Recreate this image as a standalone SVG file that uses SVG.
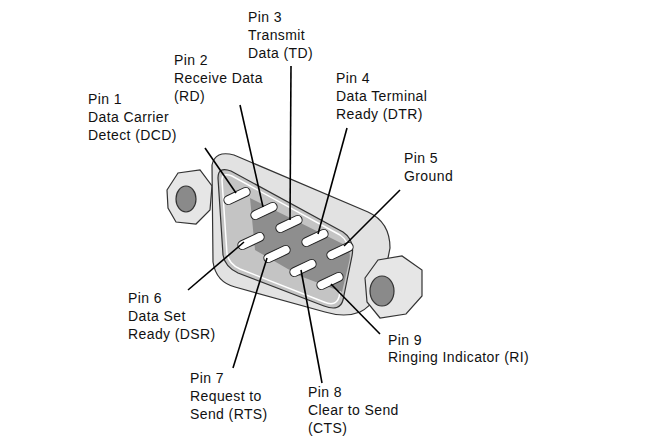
<svg xmlns="http://www.w3.org/2000/svg" width="671" height="445" viewBox="0 0 671 445">
<style>
text{font-family:"Liberation Sans",Arial,sans-serif;font-size:14px;letter-spacing:0.4px;fill:#111}
.l{stroke:#000;stroke-width:1.6;fill:none}
.pin{fill:#fff;stroke:#222;stroke-width:1}
.o{stroke:#333;stroke-width:1.2}
</style>
<rect width="671" height="445" fill="#fff"/>
<!-- left nut -->
<polygon class="o" points="167,190 178,173 200,170 212,186 210,210 196,224 176,222 168,208" fill="#e6e6e6"/>
<ellipse class="o" cx="186" cy="199" rx="10" ry="13" fill="#8a8a8a"/>
<!-- shell -->
<path class="o" fill="#e2e2e2" d="M212,165 Q215,150 234,155 L368,212 Q390,222 390,248 L386,268 Q380,302 360,312 Q345,318 325,312 L235,287 Q216,282 213,262 Z"/>
<!-- face -->
<path d="M218,178 Q218,166 231,171 L343,232 Q355,240 352,256 L343,300 Q340,312 324,306 L238,273 Q225,267 223,255 Z" fill="#c4c4c4" stroke="#333" stroke-width="1.2"/>
<path d="M222,180 Q222,172 232,176 L340,235 Q350,242 348,255 L339,297 Q336,307 324,302 L240,269 Q229,264 227,254 Z" fill="none" stroke="#fff" stroke-width="1.5"/>
<!-- dark cavity -->
<path d="M250,198 L345,245 Q352,250 349,262 L342,292 L300,276 L255,250 Z" fill="#8e8e8e"/>
<!-- right nut -->
<polygon class="o" points="365,278 378,260 402,256 422,270 422,296 406,314 380,318 367,302" fill="#e6e6e6"/>
<ellipse class="o" cx="382" cy="291" rx="12" ry="15" fill="#8a8a8a"/>
<!-- pins -->
<g class="pin">
<rect x="-14" y="-4.5" width="28" height="9" rx="4.5" transform="translate(237,196) rotate(-25)"/>
<rect x="-14" y="-4.5" width="28" height="9" rx="4.5" transform="translate(264,211) rotate(-25)"/>
<rect x="-14" y="-4.5" width="28" height="9" rx="4.5" transform="translate(289,224) rotate(-25)"/>
<rect x="-14" y="-4.5" width="28" height="9" rx="4.5" transform="translate(315,238) rotate(-25)"/>
<rect x="-14" y="-4.5" width="28" height="9" rx="4.5" transform="translate(340,251) rotate(-25)"/>
<rect x="-14" y="-4.5" width="28" height="9" rx="4.5" transform="translate(251,241) rotate(-25)"/>
<rect x="-14" y="-4.5" width="28" height="9" rx="4.5" transform="translate(277,254) rotate(-25)"/>
<rect x="-14" y="-4.5" width="28" height="9" rx="4.5" transform="translate(303,268) rotate(-25)"/>
<rect x="-14" y="-4.5" width="28" height="9" rx="4.5" transform="translate(330,281) rotate(-25)"/>
</g>
<g id="connectors">
<line class="l" x1="205" y1="148" x2="236" y2="193"/>
<line class="l" x1="240" y1="105" x2="263" y2="207"/>
<line class="l" x1="291" y1="66" x2="290" y2="220"/>
<line class="l" x1="347" y1="128" x2="318" y2="234"/>
<line class="l" x1="400" y1="190" x2="344" y2="246"/>
<line class="l" x1="188" y1="290" x2="244" y2="242"/>
<line class="l" x1="233" y1="368" x2="267" y2="258"/>
<line class="l" x1="322" y1="383" x2="301" y2="270"/>
<line class="l" x1="380" y1="334" x2="331" y2="284"/>
</g>
<g id="pin1"><text x="88" y="104">Pin 1</text><text x="88" y="122">Data Carrier</text><text x="88" y="140">Detect (DCD)</text></g>
<g id="pin2"><text x="174" y="65">Pin 2</text><text x="174" y="83">Receive Data</text><text x="174" y="101">(RD)</text></g>
<g id="pin3"><text x="248" y="22">Pin 3</text><text x="248" y="40">Transmit</text><text x="248" y="58">Data (TD)</text></g>
<g id="pin4"><text x="336" y="83">Pin 4</text><text x="336" y="101">Data Terminal</text><text x="336" y="119">Ready (DTR)</text></g>
<g id="pin5"><text x="404" y="163">Pin 5</text><text x="404" y="181">Ground</text></g>
<g id="pin6"><text x="128" y="303">Pin 6</text><text x="128" y="321">Data Set</text><text x="128" y="339">Ready (DSR)</text></g>
<g id="pin7"><text x="190" y="383">Pin 7</text><text x="190" y="401">Request to</text><text x="190" y="419">Send (RTS)</text></g>
<g id="pin8"><text x="308" y="397">Pin 8</text><text x="308" y="415">Clear to Send</text><text x="308" y="433">(CTS)</text></g>
<g id="pin9"><text x="388" y="345">Pin 9</text><text x="388" y="362">Ringing Indicator (RI)</text></g>
</svg>
